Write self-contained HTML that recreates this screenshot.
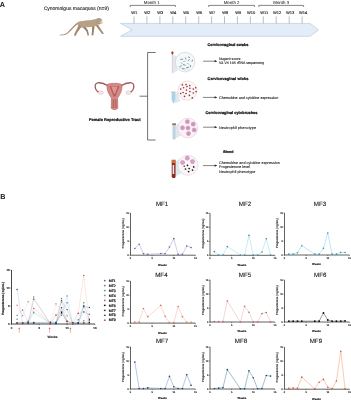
<!DOCTYPE html><html><head><meta charset="utf-8"><style>
html,body{margin:0;padding:0;background:#fff;width:351px;height:400px;overflow:hidden}
svg{display:block;will-change:transform;font-family:"Liberation Sans", sans-serif;text-rendering:geometricPrecision}
</style></head><body>
<svg width="351" height="400" viewBox="0 0 351 400">
<rect width="351" height="400" fill="#fff"/>
<text x="-0.3" y="6.6" font-size="7.2" font-weight="bold" fill="#111">A</text>
<text x="43.7" y="9.5" font-size="5" textLength="65.2" fill="#222" stroke="#222" stroke-width="0.1">Cynomolgus macaques (n=9)</text>
<g>
<path d="M78.2,22.3 C74.5,23.9 71.5,28.6 67.6,32.3 C65.4,34.1 62.6,34.7 59.8,34.8 L59.9,35.6 C63,35.7 66,35 68.4,33.1 C72.2,29.8 75.2,25.4 78.6,23.4 Z" fill="#a89176"/>
<path d="M81.5,26.5 C83.5,28.3 85.5,29.8 86.4,31.3 C86.8,32.6 87.3,34 87.5,35.4 L88.9,35.4 C88.8,33.6 88.4,31.8 87.9,30.3 C86.7,28.2 85,26.8 83.8,25.6 Z" fill="#95806a"/>
<path d="M92.1,26 C92.3,29 92,32.2 91.6,35.3 L93.2,35.4 C93.7,32.3 94.3,29.2 94.5,26 Z" fill="#95806a"/>
<path d="M77.4,22.8 C79,20.9 85,20.6 89.5,20.3 C92.5,20.1 94.5,19.3 96.6,18.8 L98.2,22.4 C97.6,24.6 96,25.8 94,26.5 C90,27.4 85.5,27.1 81.8,27.4 C79.5,27.5 77.2,25.3 77.4,22.8 Z" fill="#b7a085"/>
<path d="M78.6,25 C77.6,27.5 76,30.5 74.6,33.3 C74.2,34.3 74.1,35 74.3,35.8 L76,35.8 C76,35 76.3,34.2 76.8,33.4 C78.5,30.8 80.3,28.6 81.6,26.5 Z" fill="#a48d73"/>
<path d="M95.2,24.8 C97.2,27.8 99.6,31 102.1,33.9 L103.8,34.1 L103.6,33.2 C101.6,30.3 99.6,27.2 97.8,24.2 Z" fill="#a48d73"/>
<ellipse cx="98.9" cy="21.2" rx="3.1" ry="3.3" fill="#b39c82"/>
<ellipse cx="101.3" cy="22.3" rx="1.3" ry="1.5" fill="#e5c4b2"/>
</g>
<g stroke="#666" stroke-width="0.8" fill="none">
<path d="M130.2,7.0V5.4H175.4V7.0"/>
<path d="M208.7,7.0V5.4H254.6V7.0"/>
<path d="M258.8,7.0V5.4H303.6V7.0"/>
</g>
<text x="151.7" y="3.75" font-size="4.4" text-anchor="middle" fill="#333" stroke="#333" stroke-width="0.06">Month 1</text>
<text x="231.6" y="3.75" font-size="4.4" text-anchor="middle" fill="#333" stroke="#333" stroke-width="0.06">Month 2</text>
<text x="281.2" y="3.75" font-size="4.4" text-anchor="middle" fill="#333" stroke="#333" stroke-width="0.06">Month 3</text>
<text x="134.2" y="14.1" font-size="4.0" text-anchor="middle" fill="#1a1a1a" stroke="#1a1a1a" stroke-width="0.13">W1</text>
<text x="147.2" y="14.1" font-size="4.0" text-anchor="middle" fill="#1a1a1a" stroke="#1a1a1a" stroke-width="0.13">W2</text>
<text x="160.2" y="14.1" font-size="4.0" text-anchor="middle" fill="#1a1a1a" stroke="#1a1a1a" stroke-width="0.13">W3</text>
<text x="173.2" y="14.1" font-size="4.0" text-anchor="middle" fill="#1a1a1a" stroke="#1a1a1a" stroke-width="0.13">W4</text>
<text x="186.2" y="14.1" font-size="4.0" text-anchor="middle" fill="#1a1a1a" stroke="#1a1a1a" stroke-width="0.13">W5</text>
<text x="199.2" y="14.1" font-size="4.0" text-anchor="middle" fill="#1a1a1a" stroke="#1a1a1a" stroke-width="0.13">W6</text>
<text x="212.2" y="14.1" font-size="4.0" text-anchor="middle" fill="#1a1a1a" stroke="#1a1a1a" stroke-width="0.13">W7</text>
<text x="225.2" y="14.1" font-size="4.0" text-anchor="middle" fill="#1a1a1a" stroke="#1a1a1a" stroke-width="0.13">W8</text>
<text x="238.2" y="14.1" font-size="4.0" text-anchor="middle" fill="#1a1a1a" stroke="#1a1a1a" stroke-width="0.13">W9</text>
<text x="251.2" y="14.1" font-size="4.0" text-anchor="middle" fill="#1a1a1a" stroke="#1a1a1a" stroke-width="0.13">W10</text>
<text x="264.2" y="14.1" font-size="4.0" text-anchor="middle" fill="#1a1a1a" stroke="#1a1a1a" stroke-width="0.13">W11</text>
<text x="277.2" y="14.1" font-size="4.0" text-anchor="middle" fill="#1a1a1a" stroke="#1a1a1a" stroke-width="0.13">W12</text>
<text x="290.2" y="14.1" font-size="4.0" text-anchor="middle" fill="#1a1a1a" stroke="#1a1a1a" stroke-width="0.13">W13</text>
<text x="303.2" y="14.1" font-size="4.0" text-anchor="middle" fill="#1a1a1a" stroke="#1a1a1a" stroke-width="0.13">W14</text>
<path d="M120.6,23.4 H310.2 L318.6,29.9 L310.2,36.3 H120.6 L132.2,29.9 Z" fill="#e2edf8" stroke="#b4c3d3" stroke-width="0.6"/>
<g stroke="#7d8896" stroke-width="0.55">
<path d="M134.0,16.3V23.4"/>
<path d="M146.9,16.3V23.4"/>
<path d="M159.9,16.3V23.4"/>
<path d="M172.8,16.3V23.4"/>
<path d="M185.7,16.3V23.4"/>
<path d="M198.7,16.3V23.4"/>
<path d="M211.6,16.3V23.4"/>
<path d="M224.5,16.3V23.4"/>
<path d="M237.4,16.3V23.4"/>
<path d="M250.4,16.3V23.4"/>
<path d="M263.3,16.3V23.4"/>
<path d="M276.2,16.3V23.4"/>
<path d="M289.2,16.3V23.4"/>
<path d="M302.1,16.3V23.4"/>
</g>
<path d="M155.6,52.5H147.6V140H155.6 M139.6,96.2H147.6" fill="none" stroke="#444" stroke-width="0.75"/>
<g>
<path d="M107.8,85.8 C104.5,83.6 100.5,82.4 97.6,82.9 C95,83.4 94.6,86.5 95.8,89.2 C96.6,90.8 97.8,91.8 99,92.4" fill="none" stroke="#a3595a" stroke-width="1.3"/>
<path d="M121.2,85.8 C124.5,83.6 128.5,82.4 131.4,82.9 C134,83.4 134.4,86.5 133.2,89.2 C132.4,90.8 131.2,91.8 130,92.4" fill="none" stroke="#a3595a" stroke-width="1.3"/>
<ellipse cx="100.8" cy="92.6" rx="2.5" ry="1.9" fill="#f3e6e8" stroke="#d8aaaa" stroke-width="0.4"/>
<ellipse cx="128.4" cy="92.6" rx="2.5" ry="1.9" fill="#f3e6e8" stroke="#d8aaaa" stroke-width="0.4"/>
<path d="M107,84.8 C109.5,82.8 119.5,82.8 122,84.8 C122.4,90 120,95 117.6,98 L117.8,108.3 C116.2,110 112.8,110 111.2,108.3 L111.5,98 C109,95 106.6,90 107,84.8 Z" fill="#d48a85" stroke="#b0605c" stroke-width="0.6"/>
<path d="M109.6,86 L119.4,86 L115.3,96.5 L113.7,96.5 Z" fill="#b9585a"/>
<path d="M111.2,86.4 L117.8,86.4 L114.9,94 L114.1,94 Z" fill="#d99893"/>
<path d="M112.6,99.2 L116.4,99.2 L116.5,108 L112.5,108 Z" fill="#bd6764"/><path d="M114.5,99.5 V107.8" stroke="#d99590" stroke-width="0.5"/>
</g>
<text x="89" y="121.2" font-size="4.0" font-weight="bold" fill="#111" stroke="#111" stroke-width="0.22" textLength="51.6">Female Reproductive Tract</text>
<text x="207.5" y="45.9" font-size="3.9" font-weight="bold" fill="#111" stroke="#111" stroke-width="0.22" textLength="41">Cervicovaginal swabs</text>
<text x="207.5" y="80.1" font-size="3.9" font-weight="bold" fill="#111" stroke="#111" stroke-width="0.22" textLength="40.8">Cervicovaginal wicks</text>
<text x="205.5" y="113.6" font-size="3.9" font-weight="bold" fill="#111" stroke="#111" stroke-width="0.22">Cervicovaginal cytobrushes</text>
<text x="223.2" y="153.1" font-size="3.6" font-weight="bold" fill="#111" stroke="#111" stroke-width="0.22">Blood</text>
<path d="M203,61.2H215.5" stroke="#333" stroke-width="0.6"/><path d="M217.4,61.2 L214.6,60.050000000000004 L214.6,62.35 Z" fill="#222"/>
<path d="M203,97.4H215.5" stroke="#333" stroke-width="0.6"/><path d="M217.4,97.4 L214.6,96.25 L214.6,98.55000000000001 Z" fill="#222"/>
<path d="M203,127.2H215.5" stroke="#333" stroke-width="0.6"/><path d="M217.4,127.2 L214.6,126.05 L214.6,128.35 Z" fill="#222"/>
<path d="M203,165.6H215.5" stroke="#333" stroke-width="0.6"/><path d="M217.4,165.6 L214.6,164.45 L214.6,166.75 Z" fill="#222"/>
<g font-size="3.7" fill="#222" stroke="#222" stroke-width="0.1">
<text x="219" y="59.8" font-size="3.6">Nugent score</text>
<text x="219" y="64.2" font-size="3.5">V3-V4 16S rRNA sequencing</text>
<text x="219" y="98.8" textLength="59.2">Chemokine and cytokine expression</text>
<text x="219" y="128.6" textLength="37">Neutrophil phenotype</text>
<text x="219" y="164.2" textLength="60.8">Chemokine and cytokine expression</text>
<text x="219" y="168.4" textLength="31">Progesterone level</text>
<text x="219" y="172.5" textLength="36.2">Neutrophil phenotype</text>
</g>
<g>
<path d="M173.2,55 L177,56.5 C175.5,60 175.5,66 178,70.5 L173.2,73 Z" fill="#dfe9ef"/>
<path d="M172.5,54 V73.3" stroke="#ddd3d8" stroke-width="1.4"/>
<ellipse cx="172.4" cy="52.8" rx="1.05" ry="1.6" fill="#9e2a3c"/>
<circle cx="185.1" cy="62.1" r="9.8" fill="#f5f9fb" stroke="#c8d6de" stroke-width="0.7"/>
<path d="M177,66 C180,70 186,72 191,70 C189,68 183,67 177,66 Z" fill="#e6eef3"/>
<g stroke="#4a5e6a" stroke-width="0.65" stroke-linecap="round">
<path d="M180.6,59.4 l2.2,-0.2"/><path d="M188.4,56.8 l1.4,0.9"/><path d="M188.2,60.8 l1.2,-1.4"/><path d="M192,61.4 l0.6,-1.4"/>
<path d="M179.8,66.6 l1.6,-0.8"/><path d="M183.2,64.6 l2.2,0.6"/><path d="M186.6,67.6 l2,-0.3"/><path d="M190.6,65.4 l-0.3,1.4"/><path d="M182.6,68.6 l1.6,0.3"/><path d="M185.4,57.8 l0.5,1.2"/>
</g>
<g stroke="#4fa3b5" stroke-width="0.55" stroke-linecap="round"><path d="M183.5,61.5 l1.8,-0.4"/><path d="M187.5,63.5 l1.5,0.8"/><path d="M181,63 l1.4,0.6"/></g>
</g>
<g>
<path d="M175.3,93.5 L179,91 C178.2,94 178.5,98 180.5,101 L174.2,103.5 Z" fill="#dde8ef"/>
<path d="M171.6,93.2 H175.3 V99.8 L173.45,103.8 L171.6,99.8 Z" fill="#a9d3e6"/>
<rect x="171.3" y="91.6" width="4.3" height="1.7" fill="#b5c4cc"/>
<circle cx="187.4" cy="90.6" r="9.6" fill="#fcf6f6" stroke="#e0cfd3" stroke-width="0.6"/>
<g fill="#93303f">
<circle cx="186" cy="84.6" r="0.82"/>
<circle cx="189.8" cy="85.6" r="0.82"/>
<circle cx="183.6" cy="87.7" r="0.82"/>
<circle cx="187" cy="86.6" r="0.82"/>
<circle cx="189.9" cy="88.2" r="0.82"/>
<circle cx="193.3" cy="89.1" r="0.82"/>
<circle cx="180.7" cy="89.1" r="0.82"/>
<circle cx="186.5" cy="90.1" r="0.82"/>
<circle cx="183.1" cy="92.5" r="0.82"/>
<circle cx="189.9" cy="91.6" r="0.82"/>
<circle cx="193.3" cy="93" r="0.82"/>
<circle cx="186" cy="93.5" r="0.82"/>
<circle cx="180.7" cy="93.5" r="0.82"/>
<circle cx="189.4" cy="95.4" r="0.82"/>
<circle cx="184.5" cy="96.4" r="0.82"/>
<circle cx="192.3" cy="97.9" r="0.82"/>
<circle cx="195.7" cy="87.7" r="0.82"/>
<circle cx="196" cy="91.6" r="0.82"/>
<circle cx="182.4" cy="84.9" r="0.82"/>
</g></g>
<g>
<path d="M175.6,125.5 L179.5,122.5 C178.3,127 178.5,132 181,135.5 L175.6,138.5 Z" fill="#dde8ef"/>
<path d="M172.5,124.5 H175.7 V138.2 C175.7,140 172.5,140 172.5,138.2 Z" fill="#bcd3e2"/>
<rect x="172.3" y="123.3" width="3.6" height="1.8" fill="#a86a3e"/>
<circle cx="187.9" cy="128" r="9.9" fill="#fbf2f7" stroke="#e6cbdc" stroke-width="0.6"/>
<g fill="#d7a3c7" stroke="#b57aa3" stroke-width="0.4">
<circle cx="187.4" cy="121.7" r="2.1"/><circle cx="193.2" cy="124.2" r="2.1"/><circle cx="194.2" cy="130" r="2.1"/>
<circle cx="188" cy="128" r="2.1"/><circle cx="188.5" cy="133.6" r="2.1"/><circle cx="182.5" cy="127.8" r="2.1"/>
</g>
<g fill="#c08ab0"><circle cx="187.4" cy="121.7" r="0.9"/><circle cx="193.2" cy="124.2" r="0.9"/><circle cx="194.2" cy="130" r="0.9"/><circle cx="188" cy="128" r="0.9"/><circle cx="188.5" cy="133.6" r="0.9"/><circle cx="182.5" cy="127.8" r="0.9"/></g>
</g>
<g>
<path d="M175.6,162 L180,158.5 C178.8,163 179.5,169 182,172.5 L175.6,176.5 Z" fill="#d9eaf0"/>
<path d="M171.7,162.8 H175.6 V176.4 C175.6,178.6 171.7,178.6 171.7,176.4 Z" fill="#8c2a2a"/>
<rect x="172.6" y="165" width="1.6" height="9" fill="#efe3e3"/>
<rect x="171.5" y="159.7" width="4.3" height="3.5" fill="#d0703a"/>
<circle cx="188" cy="165.3" r="10" fill="#fcf5f8" stroke="#e3cdd9" stroke-width="0.6"/>
<g fill="#d7a3c7" stroke="#b57aa3" stroke-width="0.4"><circle cx="187.3" cy="158.2" r="2.1"/><circle cx="182.6" cy="162.5" r="2.1"/><circle cx="192.5" cy="161.6" r="2.1"/></g>
<g fill="#1a1a1a"><circle cx="187.5" cy="165.3" r="0.85"/><circle cx="193.7" cy="166.9" r="0.85"/><circle cx="185.5" cy="169" r="0.85"/><circle cx="189.2" cy="168.5" r="0.85"/><circle cx="192.5" cy="170.1" r="0.85"/><circle cx="188.6" cy="171.6" r="0.85"/><circle cx="184.2" cy="166.2" r="0.7"/></g>
</g>
<text x="0.2" y="198.9" font-size="7.2" font-weight="bold" fill="#111">B</text>
<text x="162.1" y="205.5" font-size="6.2" text-anchor="middle" fill="#111" stroke="#111" stroke-width="0.1">MF1</text>
<path d="M130.5,213.1V255.2H195.4" fill="none" stroke="#444" stroke-width="0.85"/>
<path d="M129.5,255.2H130.5" stroke="#333" stroke-width="0.5"/>
<text x="129.0" y="256.1" font-size="2.5" font-weight="bold" text-anchor="end" fill="#333" stroke="#333" stroke-width="0.12">0</text>
<path d="M129.5,241.2H130.5" stroke="#333" stroke-width="0.5"/>
<text x="129.0" y="242.0" font-size="2.5" font-weight="bold" text-anchor="end" fill="#333" stroke="#333" stroke-width="0.12">5</text>
<path d="M129.5,227.1H130.5" stroke="#333" stroke-width="0.5"/>
<text x="129.0" y="228.0" font-size="2.5" font-weight="bold" text-anchor="end" fill="#333" stroke="#333" stroke-width="0.12">10</text>
<path d="M129.5,213.1H130.5" stroke="#333" stroke-width="0.5"/>
<text x="129.0" y="213.9" font-size="2.5" font-weight="bold" text-anchor="end" fill="#333" stroke="#333" stroke-width="0.12">15</text>
<path d="M130.5,255.2V256.2" stroke="#333" stroke-width="0.5"/>
<text x="130.5" y="259.1" font-size="2.5" font-weight="bold" text-anchor="middle" fill="#333" stroke="#333" stroke-width="0.12">0</text>
<path d="M152.1,255.2V256.2" stroke="#333" stroke-width="0.5"/>
<text x="152.1" y="259.1" font-size="2.5" font-weight="bold" text-anchor="middle" fill="#333" stroke="#333" stroke-width="0.12">5</text>
<path d="M173.8,255.2V256.2" stroke="#333" stroke-width="0.5"/>
<text x="173.8" y="259.1" font-size="2.5" font-weight="bold" text-anchor="middle" fill="#333" stroke="#333" stroke-width="0.12">10</text>
<path d="M195.4,255.2V256.2" stroke="#333" stroke-width="0.5"/>
<text x="195.4" y="259.1" font-size="2.5" font-weight="bold" text-anchor="middle" fill="#333" stroke="#333" stroke-width="0.12">15</text>
<text x="162.5" y="265.6" font-size="2.8" font-weight="bold" text-anchor="middle" fill="#222" stroke="#222" stroke-width="0.12">Weeks</text>
<text transform="translate(124.0,233.4) rotate(-90)" font-size="2.9" font-weight="bold" text-anchor="middle" fill="#333" stroke="#333" stroke-width="0.12">Progesterone (ng/mL)</text>
<path d="M134.83,248.46 L139.15,244.25 L143.48,253.80 L147.81,254.36 L160.79,253.52 L165.11,253.80 L169.44,247.06 L173.77,238.64 L178.09,254.36 L182.42,254.36 L186.75,245.94 L191.07,247.62" fill="none" stroke="#9d9fd6" stroke-width="0.5"/>
<circle cx="134.83" cy="248.46" r="0.8" fill="#5d5f98"/>
<circle cx="139.15" cy="244.25" r="0.8" fill="#5d5f98"/>
<circle cx="143.48" cy="253.80" r="0.8" fill="#5d5f98"/>
<circle cx="147.81" cy="254.36" r="0.8" fill="#5d5f98"/>
<circle cx="160.79" cy="253.52" r="0.8" fill="#5d5f98"/>
<circle cx="165.11" cy="253.80" r="0.8" fill="#5d5f98"/>
<circle cx="169.44" cy="247.06" r="0.8" fill="#5d5f98"/>
<circle cx="173.77" cy="238.64" r="0.8" fill="#5d5f98"/>
<circle cx="178.09" cy="254.36" r="0.8" fill="#5d5f98"/>
<circle cx="182.42" cy="254.36" r="0.8" fill="#5d5f98"/>
<circle cx="186.75" cy="245.94" r="0.8" fill="#5d5f98"/>
<circle cx="191.07" cy="247.62" r="0.8" fill="#5d5f98"/>
<text x="245.0" y="205.5" font-size="6.2" text-anchor="middle" fill="#111" stroke="#111" stroke-width="0.1">MF2</text>
<path d="M210.0,213.2V255.3H274.9" fill="none" stroke="#444" stroke-width="0.85"/>
<path d="M209.0,255.3H210.0" stroke="#333" stroke-width="0.5"/>
<text x="208.5" y="256.2" font-size="2.5" font-weight="bold" text-anchor="end" fill="#333" stroke="#333" stroke-width="0.12">0</text>
<path d="M209.0,241.3H210.0" stroke="#333" stroke-width="0.5"/>
<text x="208.5" y="242.1" font-size="2.5" font-weight="bold" text-anchor="end" fill="#333" stroke="#333" stroke-width="0.12">5</text>
<path d="M209.0,227.2H210.0" stroke="#333" stroke-width="0.5"/>
<text x="208.5" y="228.1" font-size="2.5" font-weight="bold" text-anchor="end" fill="#333" stroke="#333" stroke-width="0.12">10</text>
<path d="M209.0,213.2H210.0" stroke="#333" stroke-width="0.5"/>
<text x="208.5" y="214.1" font-size="2.5" font-weight="bold" text-anchor="end" fill="#333" stroke="#333" stroke-width="0.12">15</text>
<path d="M210.0,255.3V256.3" stroke="#333" stroke-width="0.5"/>
<text x="210.0" y="259.2" font-size="2.5" font-weight="bold" text-anchor="middle" fill="#333" stroke="#333" stroke-width="0.12">0</text>
<path d="M231.6,255.3V256.3" stroke="#333" stroke-width="0.5"/>
<text x="231.6" y="259.2" font-size="2.5" font-weight="bold" text-anchor="middle" fill="#333" stroke="#333" stroke-width="0.12">5</text>
<path d="M253.3,255.3V256.3" stroke="#333" stroke-width="0.5"/>
<text x="253.3" y="259.2" font-size="2.5" font-weight="bold" text-anchor="middle" fill="#333" stroke="#333" stroke-width="0.12">10</text>
<path d="M274.9,255.3V256.3" stroke="#333" stroke-width="0.5"/>
<text x="274.9" y="259.2" font-size="2.5" font-weight="bold" text-anchor="middle" fill="#333" stroke="#333" stroke-width="0.12">15</text>
<text x="242.0" y="265.7" font-size="2.8" font-weight="bold" text-anchor="middle" fill="#222" stroke="#222" stroke-width="0.12">Weeks</text>
<text transform="translate(203.5,233.6) rotate(-90)" font-size="2.9" font-weight="bold" text-anchor="middle" fill="#333" stroke="#333" stroke-width="0.12">Progesterone (ng/mL)</text>
<path d="M214.33,251.65 L218.65,255.02 L222.98,255.02 L227.31,246.60 L240.29,255.02 L244.61,255.02 L248.94,235.37 L253.27,255.02 L257.59,255.02 L261.92,251.93 L266.25,238.74 L270.57,255.02" fill="none" stroke="#8ed8ea" stroke-width="0.5"/>
<circle cx="214.33" cy="251.65" r="0.8" fill="#3f8499"/>
<circle cx="218.65" cy="255.02" r="0.8" fill="#3f8499"/>
<circle cx="222.98" cy="255.02" r="0.8" fill="#3f8499"/>
<circle cx="227.31" cy="246.60" r="0.8" fill="#3f8499"/>
<circle cx="240.29" cy="255.02" r="0.8" fill="#3f8499"/>
<circle cx="244.61" cy="255.02" r="0.8" fill="#3f8499"/>
<circle cx="248.94" cy="235.37" r="0.8" fill="#3f8499"/>
<circle cx="253.27" cy="255.02" r="0.8" fill="#3f8499"/>
<circle cx="257.59" cy="255.02" r="0.8" fill="#3f8499"/>
<circle cx="261.92" cy="251.93" r="0.8" fill="#3f8499"/>
<circle cx="266.25" cy="238.74" r="0.8" fill="#3f8499"/>
<circle cx="270.57" cy="255.02" r="0.8" fill="#3f8499"/>
<text x="320.0" y="205.5" font-size="6.2" text-anchor="middle" fill="#111" stroke="#111" stroke-width="0.1">MF3</text>
<path d="M284.5,212.9V255.0H349.4" fill="none" stroke="#444" stroke-width="0.85"/>
<path d="M283.5,255.0H284.5" stroke="#333" stroke-width="0.5"/>
<text x="283.0" y="255.8" font-size="2.5" font-weight="bold" text-anchor="end" fill="#333" stroke="#333" stroke-width="0.12">0</text>
<path d="M283.5,241.0H284.5" stroke="#333" stroke-width="0.5"/>
<text x="283.0" y="241.8" font-size="2.5" font-weight="bold" text-anchor="end" fill="#333" stroke="#333" stroke-width="0.12">5</text>
<path d="M283.5,226.9H284.5" stroke="#333" stroke-width="0.5"/>
<text x="283.0" y="227.8" font-size="2.5" font-weight="bold" text-anchor="end" fill="#333" stroke="#333" stroke-width="0.12">10</text>
<path d="M283.5,212.9H284.5" stroke="#333" stroke-width="0.5"/>
<text x="283.0" y="213.8" font-size="2.5" font-weight="bold" text-anchor="end" fill="#333" stroke="#333" stroke-width="0.12">15</text>
<path d="M284.5,255.0V256.0" stroke="#333" stroke-width="0.5"/>
<text x="284.5" y="258.9" font-size="2.5" font-weight="bold" text-anchor="middle" fill="#333" stroke="#333" stroke-width="0.12">0</text>
<path d="M306.1,255.0V256.0" stroke="#333" stroke-width="0.5"/>
<text x="306.1" y="258.9" font-size="2.5" font-weight="bold" text-anchor="middle" fill="#333" stroke="#333" stroke-width="0.12">5</text>
<path d="M327.8,255.0V256.0" stroke="#333" stroke-width="0.5"/>
<text x="327.8" y="258.9" font-size="2.5" font-weight="bold" text-anchor="middle" fill="#333" stroke="#333" stroke-width="0.12">10</text>
<path d="M349.4,255.0V256.0" stroke="#333" stroke-width="0.5"/>
<text x="349.4" y="258.9" font-size="2.5" font-weight="bold" text-anchor="middle" fill="#333" stroke="#333" stroke-width="0.12">15</text>
<text x="316.5" y="265.4" font-size="2.8" font-weight="bold" text-anchor="middle" fill="#222" stroke="#222" stroke-width="0.12">Weeks</text>
<text transform="translate(278.0,233.2) rotate(-90)" font-size="2.9" font-weight="bold" text-anchor="middle" fill="#333" stroke="#333" stroke-width="0.12">Progesterone (ng/mL)</text>
<path d="M288.83,254.16 L293.15,254.16 L297.48,252.75 L301.81,245.74 L314.79,254.16 L319.11,254.16 L323.44,248.26 L327.77,233.11 L332.09,254.16 L336.42,254.16 L340.75,252.47 L345.07,252.47" fill="none" stroke="#78d0e2" stroke-width="0.5"/>
<circle cx="288.83" cy="254.16" r="0.8" fill="#3b8c9b"/>
<circle cx="293.15" cy="254.16" r="0.8" fill="#3b8c9b"/>
<circle cx="297.48" cy="252.75" r="0.8" fill="#3b8c9b"/>
<circle cx="301.81" cy="245.74" r="0.8" fill="#3b8c9b"/>
<circle cx="314.79" cy="254.16" r="0.8" fill="#3b8c9b"/>
<circle cx="319.11" cy="254.16" r="0.8" fill="#3b8c9b"/>
<circle cx="323.44" cy="248.26" r="0.8" fill="#3b8c9b"/>
<circle cx="327.77" cy="233.11" r="0.8" fill="#3b8c9b"/>
<circle cx="332.09" cy="254.16" r="0.8" fill="#3b8c9b"/>
<circle cx="336.42" cy="254.16" r="0.8" fill="#3b8c9b"/>
<circle cx="340.75" cy="252.47" r="0.8" fill="#3b8c9b"/>
<circle cx="345.07" cy="252.47" r="0.8" fill="#3b8c9b"/>
<text x="161.4" y="276.6" font-size="6.2" text-anchor="middle" fill="#111" stroke="#111" stroke-width="0.1">MF4</text>
<path d="M130.5,281.0V323.1H195.4" fill="none" stroke="#444" stroke-width="0.85"/>
<path d="M129.5,323.1H130.5" stroke="#333" stroke-width="0.5"/>
<text x="129.0" y="324.0" font-size="2.5" font-weight="bold" text-anchor="end" fill="#333" stroke="#333" stroke-width="0.12">0</text>
<path d="M129.5,309.1H130.5" stroke="#333" stroke-width="0.5"/>
<text x="129.0" y="309.9" font-size="2.5" font-weight="bold" text-anchor="end" fill="#333" stroke="#333" stroke-width="0.12">5</text>
<path d="M129.5,295.0H130.5" stroke="#333" stroke-width="0.5"/>
<text x="129.0" y="295.9" font-size="2.5" font-weight="bold" text-anchor="end" fill="#333" stroke="#333" stroke-width="0.12">10</text>
<path d="M129.5,281.0H130.5" stroke="#333" stroke-width="0.5"/>
<text x="129.0" y="281.9" font-size="2.5" font-weight="bold" text-anchor="end" fill="#333" stroke="#333" stroke-width="0.12">15</text>
<path d="M130.5,323.1V324.1" stroke="#333" stroke-width="0.5"/>
<text x="130.5" y="327.0" font-size="2.5" font-weight="bold" text-anchor="middle" fill="#333" stroke="#333" stroke-width="0.12">0</text>
<path d="M152.1,323.1V324.1" stroke="#333" stroke-width="0.5"/>
<text x="152.1" y="327.0" font-size="2.5" font-weight="bold" text-anchor="middle" fill="#333" stroke="#333" stroke-width="0.12">5</text>
<path d="M173.8,323.1V324.1" stroke="#333" stroke-width="0.5"/>
<text x="173.8" y="327.0" font-size="2.5" font-weight="bold" text-anchor="middle" fill="#333" stroke="#333" stroke-width="0.12">10</text>
<path d="M195.4,323.1V324.1" stroke="#333" stroke-width="0.5"/>
<text x="195.4" y="327.0" font-size="2.5" font-weight="bold" text-anchor="middle" fill="#333" stroke="#333" stroke-width="0.12">15</text>
<text x="162.5" y="333.5" font-size="2.8" font-weight="bold" text-anchor="middle" fill="#222" stroke="#222" stroke-width="0.12">Weeks</text>
<text transform="translate(124.0,301.4) rotate(-90)" font-size="2.9" font-weight="bold" text-anchor="middle" fill="#333" stroke="#333" stroke-width="0.12">Progesterone (ng/mL)</text>
<path d="M134.83,321.98 L139.15,321.98 L143.48,308.51 L147.81,316.64 L160.79,305.42 L165.11,316.36 L169.44,322.54 L173.77,322.54 L178.09,306.54 L182.42,316.64 L186.75,322.26 L191.07,322.26" fill="none" stroke="#f6b29a" stroke-width="0.5"/>
<circle cx="134.83" cy="321.98" r="0.8" fill="#b97a66"/>
<circle cx="139.15" cy="321.98" r="0.8" fill="#b97a66"/>
<circle cx="143.48" cy="308.51" r="0.8" fill="#b97a66"/>
<circle cx="147.81" cy="316.64" r="0.8" fill="#b97a66"/>
<circle cx="160.79" cy="305.42" r="0.8" fill="#b97a66"/>
<circle cx="165.11" cy="316.36" r="0.8" fill="#b97a66"/>
<circle cx="169.44" cy="322.54" r="0.8" fill="#b97a66"/>
<circle cx="173.77" cy="322.54" r="0.8" fill="#b97a66"/>
<circle cx="178.09" cy="306.54" r="0.8" fill="#b97a66"/>
<circle cx="182.42" cy="316.64" r="0.8" fill="#b97a66"/>
<circle cx="186.75" cy="322.26" r="0.8" fill="#b97a66"/>
<circle cx="191.07" cy="322.26" r="0.8" fill="#b97a66"/>
<text x="245.0" y="276.6" font-size="6.2" text-anchor="middle" fill="#111" stroke="#111" stroke-width="0.1">MF5</text>
<path d="M210.0,279.9V322.0H274.9" fill="none" stroke="#444" stroke-width="0.85"/>
<path d="M209.0,322.0H210.0" stroke="#333" stroke-width="0.5"/>
<text x="208.5" y="322.9" font-size="2.5" font-weight="bold" text-anchor="end" fill="#333" stroke="#333" stroke-width="0.12">0</text>
<path d="M209.0,308.0H210.0" stroke="#333" stroke-width="0.5"/>
<text x="208.5" y="308.8" font-size="2.5" font-weight="bold" text-anchor="end" fill="#333" stroke="#333" stroke-width="0.12">5</text>
<path d="M209.0,293.9H210.0" stroke="#333" stroke-width="0.5"/>
<text x="208.5" y="294.8" font-size="2.5" font-weight="bold" text-anchor="end" fill="#333" stroke="#333" stroke-width="0.12">10</text>
<path d="M209.0,279.9H210.0" stroke="#333" stroke-width="0.5"/>
<text x="208.5" y="280.8" font-size="2.5" font-weight="bold" text-anchor="end" fill="#333" stroke="#333" stroke-width="0.12">15</text>
<path d="M210.0,322.0V323.0" stroke="#333" stroke-width="0.5"/>
<text x="210.0" y="325.9" font-size="2.5" font-weight="bold" text-anchor="middle" fill="#333" stroke="#333" stroke-width="0.12">0</text>
<path d="M231.6,322.0V323.0" stroke="#333" stroke-width="0.5"/>
<text x="231.6" y="325.9" font-size="2.5" font-weight="bold" text-anchor="middle" fill="#333" stroke="#333" stroke-width="0.12">5</text>
<path d="M253.3,322.0V323.0" stroke="#333" stroke-width="0.5"/>
<text x="253.3" y="325.9" font-size="2.5" font-weight="bold" text-anchor="middle" fill="#333" stroke="#333" stroke-width="0.12">10</text>
<path d="M274.9,322.0V323.0" stroke="#333" stroke-width="0.5"/>
<text x="274.9" y="325.9" font-size="2.5" font-weight="bold" text-anchor="middle" fill="#333" stroke="#333" stroke-width="0.12">15</text>
<text x="242.0" y="332.4" font-size="2.8" font-weight="bold" text-anchor="middle" fill="#222" stroke="#222" stroke-width="0.12">Weeks</text>
<text transform="translate(203.5,300.2) rotate(-90)" font-size="2.9" font-weight="bold" text-anchor="middle" fill="#333" stroke="#333" stroke-width="0.12">Progesterone (ng/mL)</text>
<path d="M214.33,321.44 L218.65,321.44 L222.98,321.44 L227.31,300.95 L240.29,322.00 L244.61,306.28 L248.94,312.18 L253.27,322.00 L257.59,322.00 L261.92,313.58 L266.25,312.46 L270.57,322.00" fill="none" stroke="#f2aaa8" stroke-width="0.5"/>
<circle cx="214.33" cy="321.44" r="0.8" fill="#a8646e"/>
<circle cx="218.65" cy="321.44" r="0.8" fill="#a8646e"/>
<circle cx="222.98" cy="321.44" r="0.8" fill="#a8646e"/>
<circle cx="227.31" cy="300.95" r="0.8" fill="#a8646e"/>
<circle cx="240.29" cy="322.00" r="0.8" fill="#a8646e"/>
<circle cx="244.61" cy="306.28" r="0.8" fill="#a8646e"/>
<circle cx="248.94" cy="312.18" r="0.8" fill="#a8646e"/>
<circle cx="253.27" cy="322.00" r="0.8" fill="#a8646e"/>
<circle cx="257.59" cy="322.00" r="0.8" fill="#a8646e"/>
<circle cx="261.92" cy="313.58" r="0.8" fill="#a8646e"/>
<circle cx="266.25" cy="312.46" r="0.8" fill="#a8646e"/>
<circle cx="270.57" cy="322.00" r="0.8" fill="#a8646e"/>
<text x="320.3" y="276.6" font-size="6.2" text-anchor="middle" fill="#111" stroke="#111" stroke-width="0.1">MF6</text>
<path d="M284.5,279.9V322.0H349.4" fill="none" stroke="#444" stroke-width="0.85"/>
<path d="M283.5,322.0H284.5" stroke="#333" stroke-width="0.5"/>
<text x="283.0" y="322.9" font-size="2.5" font-weight="bold" text-anchor="end" fill="#333" stroke="#333" stroke-width="0.12">0</text>
<path d="M283.5,308.0H284.5" stroke="#333" stroke-width="0.5"/>
<text x="283.0" y="308.8" font-size="2.5" font-weight="bold" text-anchor="end" fill="#333" stroke="#333" stroke-width="0.12">5</text>
<path d="M283.5,293.9H284.5" stroke="#333" stroke-width="0.5"/>
<text x="283.0" y="294.8" font-size="2.5" font-weight="bold" text-anchor="end" fill="#333" stroke="#333" stroke-width="0.12">10</text>
<path d="M283.5,279.9H284.5" stroke="#333" stroke-width="0.5"/>
<text x="283.0" y="280.8" font-size="2.5" font-weight="bold" text-anchor="end" fill="#333" stroke="#333" stroke-width="0.12">15</text>
<path d="M284.5,322.0V323.0" stroke="#333" stroke-width="0.5"/>
<text x="284.5" y="325.9" font-size="2.5" font-weight="bold" text-anchor="middle" fill="#333" stroke="#333" stroke-width="0.12">0</text>
<path d="M306.1,322.0V323.0" stroke="#333" stroke-width="0.5"/>
<text x="306.1" y="325.9" font-size="2.5" font-weight="bold" text-anchor="middle" fill="#333" stroke="#333" stroke-width="0.12">5</text>
<path d="M327.8,322.0V323.0" stroke="#333" stroke-width="0.5"/>
<text x="327.8" y="325.9" font-size="2.5" font-weight="bold" text-anchor="middle" fill="#333" stroke="#333" stroke-width="0.12">10</text>
<path d="M349.4,322.0V323.0" stroke="#333" stroke-width="0.5"/>
<text x="349.4" y="325.9" font-size="2.5" font-weight="bold" text-anchor="middle" fill="#333" stroke="#333" stroke-width="0.12">15</text>
<text x="316.5" y="332.4" font-size="2.8" font-weight="bold" text-anchor="middle" fill="#222" stroke="#222" stroke-width="0.12">Weeks</text>
<text transform="translate(278.0,300.2) rotate(-90)" font-size="2.9" font-weight="bold" text-anchor="middle" fill="#333" stroke="#333" stroke-width="0.12">Progesterone (ng/mL)</text>
<path d="M288.83,321.16 L293.15,321.16 L297.48,321.16 L301.81,321.16 L314.79,321.16 L319.11,321.16 L323.44,313.02 L327.77,320.04 L332.09,321.16 L336.42,321.16 L340.75,321.16 L345.07,320.88" fill="none" stroke="#3a3a3a" stroke-width="0.5"/>
<circle cx="288.83" cy="321.16" r="0.95" fill="#101010"/>
<circle cx="293.15" cy="321.16" r="0.95" fill="#101010"/>
<circle cx="297.48" cy="321.16" r="0.95" fill="#101010"/>
<circle cx="301.81" cy="321.16" r="0.95" fill="#101010"/>
<circle cx="314.79" cy="321.16" r="0.95" fill="#101010"/>
<circle cx="319.11" cy="321.16" r="0.95" fill="#101010"/>
<circle cx="323.44" cy="313.02" r="0.95" fill="#101010"/>
<circle cx="327.77" cy="320.04" r="0.95" fill="#101010"/>
<circle cx="332.09" cy="321.16" r="0.95" fill="#101010"/>
<circle cx="336.42" cy="321.16" r="0.95" fill="#101010"/>
<circle cx="340.75" cy="321.16" r="0.95" fill="#101010"/>
<circle cx="345.07" cy="320.88" r="0.95" fill="#101010"/>
<text x="162.1" y="342.6" font-size="6.2" text-anchor="middle" fill="#111" stroke="#111" stroke-width="0.1">MF7</text>
<path d="M130.5,346.9V389.0H195.4" fill="none" stroke="#444" stroke-width="0.85"/>
<path d="M129.5,389.0H130.5" stroke="#333" stroke-width="0.5"/>
<text x="129.0" y="389.9" font-size="2.5" font-weight="bold" text-anchor="end" fill="#333" stroke="#333" stroke-width="0.12">0</text>
<path d="M129.5,375.0H130.5" stroke="#333" stroke-width="0.5"/>
<text x="129.0" y="375.8" font-size="2.5" font-weight="bold" text-anchor="end" fill="#333" stroke="#333" stroke-width="0.12">5</text>
<path d="M129.5,360.9H130.5" stroke="#333" stroke-width="0.5"/>
<text x="129.0" y="361.8" font-size="2.5" font-weight="bold" text-anchor="end" fill="#333" stroke="#333" stroke-width="0.12">10</text>
<path d="M129.5,346.9H130.5" stroke="#333" stroke-width="0.5"/>
<text x="129.0" y="347.8" font-size="2.5" font-weight="bold" text-anchor="end" fill="#333" stroke="#333" stroke-width="0.12">15</text>
<path d="M130.5,389.0V390.0" stroke="#333" stroke-width="0.5"/>
<text x="130.5" y="392.9" font-size="2.5" font-weight="bold" text-anchor="middle" fill="#333" stroke="#333" stroke-width="0.12">0</text>
<path d="M152.1,389.0V390.0" stroke="#333" stroke-width="0.5"/>
<text x="152.1" y="392.9" font-size="2.5" font-weight="bold" text-anchor="middle" fill="#333" stroke="#333" stroke-width="0.12">5</text>
<path d="M173.8,389.0V390.0" stroke="#333" stroke-width="0.5"/>
<text x="173.8" y="392.9" font-size="2.5" font-weight="bold" text-anchor="middle" fill="#333" stroke="#333" stroke-width="0.12">10</text>
<path d="M195.4,389.0V390.0" stroke="#333" stroke-width="0.5"/>
<text x="195.4" y="392.9" font-size="2.5" font-weight="bold" text-anchor="middle" fill="#333" stroke="#333" stroke-width="0.12">15</text>
<text x="162.5" y="399.4" font-size="2.8" font-weight="bold" text-anchor="middle" fill="#222" stroke="#222" stroke-width="0.12">Weeks</text>
<text transform="translate(124.0,367.2) rotate(-90)" font-size="2.9" font-weight="bold" text-anchor="middle" fill="#333" stroke="#333" stroke-width="0.12">Progesterone (ng/mL)</text>
<path d="M134.83,362.06 L139.15,388.44 L143.48,388.44 L147.81,387.88 L160.79,388.44 L165.11,388.44 L169.44,376.37 L173.77,386.75 L178.09,388.44 L182.42,388.44 L186.75,374.69 L191.07,385.35" fill="none" stroke="#6f8cc8" stroke-width="0.5"/>
<circle cx="134.83" cy="362.06" r="0.8" fill="#1f3264"/>
<circle cx="139.15" cy="388.44" r="0.8" fill="#1f3264"/>
<circle cx="143.48" cy="388.44" r="0.8" fill="#1f3264"/>
<circle cx="147.81" cy="387.88" r="0.8" fill="#1f3264"/>
<circle cx="160.79" cy="388.44" r="0.8" fill="#1f3264"/>
<circle cx="165.11" cy="388.44" r="0.8" fill="#1f3264"/>
<circle cx="169.44" cy="376.37" r="0.8" fill="#1f3264"/>
<circle cx="173.77" cy="386.75" r="0.8" fill="#1f3264"/>
<circle cx="178.09" cy="388.44" r="0.8" fill="#1f3264"/>
<circle cx="182.42" cy="388.44" r="0.8" fill="#1f3264"/>
<circle cx="186.75" cy="374.69" r="0.8" fill="#1f3264"/>
<circle cx="191.07" cy="385.35" r="0.8" fill="#1f3264"/>
<text x="241.0" y="342.6" font-size="6.2" text-anchor="middle" fill="#111" stroke="#111" stroke-width="0.1">MF8</text>
<path d="M210.0,346.9V389.0H274.9" fill="none" stroke="#444" stroke-width="0.85"/>
<path d="M209.0,389.0H210.0" stroke="#333" stroke-width="0.5"/>
<text x="208.5" y="389.9" font-size="2.5" font-weight="bold" text-anchor="end" fill="#333" stroke="#333" stroke-width="0.12">0</text>
<path d="M209.0,375.0H210.0" stroke="#333" stroke-width="0.5"/>
<text x="208.5" y="375.8" font-size="2.5" font-weight="bold" text-anchor="end" fill="#333" stroke="#333" stroke-width="0.12">5</text>
<path d="M209.0,360.9H210.0" stroke="#333" stroke-width="0.5"/>
<text x="208.5" y="361.8" font-size="2.5" font-weight="bold" text-anchor="end" fill="#333" stroke="#333" stroke-width="0.12">10</text>
<path d="M209.0,346.9H210.0" stroke="#333" stroke-width="0.5"/>
<text x="208.5" y="347.8" font-size="2.5" font-weight="bold" text-anchor="end" fill="#333" stroke="#333" stroke-width="0.12">15</text>
<path d="M210.0,389.0V390.0" stroke="#333" stroke-width="0.5"/>
<text x="210.0" y="392.9" font-size="2.5" font-weight="bold" text-anchor="middle" fill="#333" stroke="#333" stroke-width="0.12">0</text>
<path d="M231.6,389.0V390.0" stroke="#333" stroke-width="0.5"/>
<text x="231.6" y="392.9" font-size="2.5" font-weight="bold" text-anchor="middle" fill="#333" stroke="#333" stroke-width="0.12">5</text>
<path d="M253.3,389.0V390.0" stroke="#333" stroke-width="0.5"/>
<text x="253.3" y="392.9" font-size="2.5" font-weight="bold" text-anchor="middle" fill="#333" stroke="#333" stroke-width="0.12">10</text>
<path d="M274.9,389.0V390.0" stroke="#333" stroke-width="0.5"/>
<text x="274.9" y="392.9" font-size="2.5" font-weight="bold" text-anchor="middle" fill="#333" stroke="#333" stroke-width="0.12">15</text>
<text x="242.0" y="399.4" font-size="2.8" font-weight="bold" text-anchor="middle" fill="#222" stroke="#222" stroke-width="0.12">Weeks</text>
<text transform="translate(203.5,367.2) rotate(-90)" font-size="2.9" font-weight="bold" text-anchor="middle" fill="#333" stroke="#333" stroke-width="0.12">Progesterone (ng/mL)</text>
<path d="M214.33,388.44 L218.65,388.16 L222.98,387.60 L227.31,369.63 L240.29,388.72 L244.61,388.72 L248.94,370.76 L253.27,377.77 L257.59,388.72 L261.92,388.44 L266.25,375.53 L270.57,376.09" fill="none" stroke="#44809e" stroke-width="0.5"/>
<circle cx="214.33" cy="388.44" r="0.8" fill="#1c4659"/>
<circle cx="218.65" cy="388.16" r="0.8" fill="#1c4659"/>
<circle cx="222.98" cy="387.60" r="0.8" fill="#1c4659"/>
<circle cx="227.31" cy="369.63" r="0.8" fill="#1c4659"/>
<circle cx="240.29" cy="388.72" r="0.8" fill="#1c4659"/>
<circle cx="244.61" cy="388.72" r="0.8" fill="#1c4659"/>
<circle cx="248.94" cy="370.76" r="0.8" fill="#1c4659"/>
<circle cx="253.27" cy="377.77" r="0.8" fill="#1c4659"/>
<circle cx="257.59" cy="388.72" r="0.8" fill="#1c4659"/>
<circle cx="261.92" cy="388.44" r="0.8" fill="#1c4659"/>
<circle cx="266.25" cy="375.53" r="0.8" fill="#1c4659"/>
<circle cx="270.57" cy="376.09" r="0.8" fill="#1c4659"/>
<text x="315.9" y="342.6" font-size="6.2" text-anchor="middle" fill="#111" stroke="#111" stroke-width="0.1">MF9</text>
<path d="M284.5,347.1V389.2H349.4" fill="none" stroke="#444" stroke-width="0.85"/>
<path d="M283.5,389.2H284.5" stroke="#333" stroke-width="0.5"/>
<text x="283.0" y="390.1" font-size="2.5" font-weight="bold" text-anchor="end" fill="#333" stroke="#333" stroke-width="0.12">0</text>
<path d="M283.5,375.2H284.5" stroke="#333" stroke-width="0.5"/>
<text x="283.0" y="376.0" font-size="2.5" font-weight="bold" text-anchor="end" fill="#333" stroke="#333" stroke-width="0.12">5</text>
<path d="M283.5,361.1H284.5" stroke="#333" stroke-width="0.5"/>
<text x="283.0" y="362.0" font-size="2.5" font-weight="bold" text-anchor="end" fill="#333" stroke="#333" stroke-width="0.12">10</text>
<path d="M283.5,347.1H284.5" stroke="#333" stroke-width="0.5"/>
<text x="283.0" y="347.9" font-size="2.5" font-weight="bold" text-anchor="end" fill="#333" stroke="#333" stroke-width="0.12">15</text>
<path d="M284.5,389.2V390.2" stroke="#333" stroke-width="0.5"/>
<text x="284.5" y="393.1" font-size="2.5" font-weight="bold" text-anchor="middle" fill="#333" stroke="#333" stroke-width="0.12">0</text>
<path d="M306.1,389.2V390.2" stroke="#333" stroke-width="0.5"/>
<text x="306.1" y="393.1" font-size="2.5" font-weight="bold" text-anchor="middle" fill="#333" stroke="#333" stroke-width="0.12">5</text>
<path d="M327.8,389.2V390.2" stroke="#333" stroke-width="0.5"/>
<text x="327.8" y="393.1" font-size="2.5" font-weight="bold" text-anchor="middle" fill="#333" stroke="#333" stroke-width="0.12">10</text>
<path d="M349.4,389.2V390.2" stroke="#333" stroke-width="0.5"/>
<text x="349.4" y="393.1" font-size="2.5" font-weight="bold" text-anchor="middle" fill="#333" stroke="#333" stroke-width="0.12">15</text>
<text x="316.5" y="399.6" font-size="2.8" font-weight="bold" text-anchor="middle" fill="#222" stroke="#222" stroke-width="0.12">Weeks</text>
<text transform="translate(278.0,367.4) rotate(-90)" font-size="2.9" font-weight="bold" text-anchor="middle" fill="#333" stroke="#333" stroke-width="0.12">Progesterone (ng/mL)</text>
<path d="M288.83,388.36 L293.15,388.08 L297.48,388.36 L301.81,377.13 L314.79,388.92 L319.11,382.18 L323.44,379.38 L327.77,387.24 L332.09,388.64 L336.42,381.06 L340.75,351.31 L345.07,388.92" fill="none" stroke="#f5946a" stroke-width="0.5"/>
<circle cx="288.83" cy="388.36" r="0.8" fill="#c0563e"/>
<circle cx="293.15" cy="388.08" r="0.8" fill="#c0563e"/>
<circle cx="297.48" cy="388.36" r="0.8" fill="#c0563e"/>
<circle cx="301.81" cy="377.13" r="0.8" fill="#c0563e"/>
<circle cx="314.79" cy="388.92" r="0.8" fill="#c0563e"/>
<circle cx="319.11" cy="382.18" r="0.8" fill="#c0563e"/>
<circle cx="323.44" cy="379.38" r="0.8" fill="#c0563e"/>
<circle cx="327.77" cy="387.24" r="0.8" fill="#c0563e"/>
<circle cx="332.09" cy="388.64" r="0.8" fill="#c0563e"/>
<circle cx="336.42" cy="381.06" r="0.8" fill="#c0563e"/>
<circle cx="340.75" cy="351.31" r="0.8" fill="#c0563e"/>
<circle cx="345.07" cy="388.92" r="0.8" fill="#c0563e"/>
<path d="M11.5,270.0V324.0H94.9" fill="none" stroke="#333" stroke-width="0.9"/>
<path d="M10.3,324.0H11.5" stroke="#333" stroke-width="0.5"/>
<text x="9.7" y="324.9" font-size="2.9" font-weight="bold" text-anchor="end" fill="#333" stroke="#333" stroke-width="0.15">0</text>
<path d="M11.5,324.0V325.2" stroke="#333" stroke-width="0.5"/>
<text x="11.5" y="329.3" font-size="2.9" font-weight="bold" text-anchor="middle" fill="#333" stroke="#333" stroke-width="0.15">0</text>
<path d="M10.3,306.0H11.5" stroke="#333" stroke-width="0.5"/>
<text x="9.7" y="306.9" font-size="2.9" font-weight="bold" text-anchor="end" fill="#333" stroke="#333" stroke-width="0.15">5</text>
<path d="M39.3,324.0V325.2" stroke="#333" stroke-width="0.5"/>
<text x="39.3" y="329.3" font-size="2.9" font-weight="bold" text-anchor="middle" fill="#333" stroke="#333" stroke-width="0.15">5</text>
<path d="M10.3,288.0H11.5" stroke="#333" stroke-width="0.5"/>
<text x="9.7" y="288.9" font-size="2.9" font-weight="bold" text-anchor="end" fill="#333" stroke="#333" stroke-width="0.15">10</text>
<path d="M67.1,324.0V325.2" stroke="#333" stroke-width="0.5"/>
<text x="67.1" y="329.3" font-size="2.9" font-weight="bold" text-anchor="middle" fill="#333" stroke="#333" stroke-width="0.15">10</text>
<path d="M10.3,270.0H11.5" stroke="#333" stroke-width="0.5"/>
<text x="9.7" y="270.9" font-size="2.9" font-weight="bold" text-anchor="end" fill="#333" stroke="#333" stroke-width="0.15">15</text>
<path d="M94.9,324.0V325.2" stroke="#333" stroke-width="0.5"/>
<text x="94.9" y="329.3" font-size="2.9" font-weight="bold" text-anchor="middle" fill="#333" stroke="#333" stroke-width="0.15">15</text>
<text x="52.5" y="337.7" font-size="3.2" font-weight="bold" text-anchor="middle" fill="#222" stroke="#222" stroke-width="0.12">Weeks</text>
<text transform="translate(4.1,298.5) rotate(-90)" font-size="3.2" font-weight="bold" text-anchor="middle" fill="#222" stroke="#222" stroke-width="0.15">Progesterone (ng/mL)</text>
<path d="M17.06,315.36 L22.62,309.96 L28.18,322.20 L33.74,322.92 L50.42,321.84 L55.98,322.20 L61.54,313.56 L67.10,302.76 L72.66,322.92 L78.22,322.92 L83.78,312.12 L89.34,314.28" fill="none" stroke="#9d9fd6" stroke-width="0.45" opacity="0.5"/>
<path d="M17.06,319.32 L22.62,323.64 L28.18,323.64 L33.74,312.84 L50.42,323.64 L55.98,323.64 L61.54,298.44 L67.10,323.64 L72.66,323.64 L78.22,319.68 L83.78,302.76 L89.34,323.64" fill="none" stroke="#8ed8ea" stroke-width="0.45" opacity="0.5"/>
<path d="M17.06,322.92 L22.62,322.92 L28.18,321.12 L33.74,312.12 L50.42,322.92 L55.98,322.92 L61.54,315.36 L67.10,295.92 L72.66,322.92 L78.22,322.92 L83.78,320.76 L89.34,320.76" fill="none" stroke="#78d0e2" stroke-width="0.45" opacity="0.5"/>
<path d="M17.06,305.28 L22.62,315.72 L28.18,301.68 L50.42,323.28 L55.98,315.36 L61.54,302.04 L67.10,315.72 L72.66,322.92 L78.22,322.92 L83.78,322.92 L89.34,322.92" fill="none" stroke="#f6b29a" stroke-width="0.45" opacity="0.5"/>
<path d="M17.06,323.28 L22.62,323.28 L28.18,323.28 L33.74,297.00 L50.42,324.00 L55.98,303.84 L61.54,311.40 L67.10,324.00 L72.66,324.00 L78.22,313.20 L83.78,311.76 L89.34,324.00" fill="none" stroke="#f2aaa8" stroke-width="0.45" opacity="0.5"/>
<path d="M17.06,322.92 L22.62,322.92 L28.18,322.92 L33.74,322.92 L50.42,322.92 L55.98,322.92 L61.54,312.48 L67.10,321.48 L72.66,322.92 L78.22,322.92 L83.78,322.92 L89.34,322.56" fill="none" stroke="#3a3a3a" stroke-width="0.45" opacity="0.5"/>
<path d="M17.06,289.44 L22.62,323.28 L28.18,323.28 L33.74,322.56 L50.42,323.28 L55.98,323.28 L61.54,307.80 L67.10,321.12 L72.66,323.28 L78.22,323.28 L83.78,305.64 L89.34,319.32" fill="none" stroke="#6f8cc8" stroke-width="0.45" opacity="0.5"/>
<path d="M17.06,323.28 L22.62,322.92 L28.18,322.20 L33.74,299.16 L50.42,323.64 L55.98,323.64 L61.54,300.60 L67.10,309.60 L72.66,323.64 L78.22,323.28 L83.78,306.72 L89.34,307.44" fill="none" stroke="#44809e" stroke-width="0.45" opacity="0.5"/>
<path d="M17.06,322.92 L22.62,322.56 L28.18,322.92 L33.74,308.52 L50.42,323.64 L55.98,315.00 L61.54,311.40 L67.10,321.48 L72.66,323.28 L78.22,313.56 L83.78,275.40 L89.34,323.64" fill="none" stroke="#f5946a" stroke-width="0.45" opacity="0.5"/>
<circle cx="17.06" cy="315.36" r="0.7" fill="#5d5f98"/>
<circle cx="22.62" cy="309.96" r="0.7" fill="#5d5f98"/>
<circle cx="28.18" cy="322.20" r="0.7" fill="#5d5f98"/>
<circle cx="33.74" cy="322.92" r="0.7" fill="#5d5f98"/>
<circle cx="50.42" cy="321.84" r="0.7" fill="#5d5f98"/>
<circle cx="55.98" cy="322.20" r="0.7" fill="#5d5f98"/>
<circle cx="61.54" cy="313.56" r="0.7" fill="#5d5f98"/>
<circle cx="67.10" cy="302.76" r="0.7" fill="#5d5f98"/>
<circle cx="72.66" cy="322.92" r="0.7" fill="#5d5f98"/>
<circle cx="78.22" cy="322.92" r="0.7" fill="#5d5f98"/>
<circle cx="83.78" cy="312.12" r="0.7" fill="#5d5f98"/>
<circle cx="89.34" cy="314.28" r="0.7" fill="#5d5f98"/>
<circle cx="17.06" cy="319.32" r="0.7" fill="#3f8499"/>
<circle cx="22.62" cy="323.64" r="0.7" fill="#3f8499"/>
<circle cx="28.18" cy="323.64" r="0.7" fill="#3f8499"/>
<circle cx="33.74" cy="312.84" r="0.7" fill="#3f8499"/>
<circle cx="50.42" cy="323.64" r="0.7" fill="#3f8499"/>
<circle cx="55.98" cy="323.64" r="0.7" fill="#3f8499"/>
<circle cx="61.54" cy="298.44" r="0.7" fill="#3f8499"/>
<circle cx="67.10" cy="323.64" r="0.7" fill="#3f8499"/>
<circle cx="72.66" cy="323.64" r="0.7" fill="#3f8499"/>
<circle cx="78.22" cy="319.68" r="0.7" fill="#3f8499"/>
<circle cx="83.78" cy="302.76" r="0.7" fill="#3f8499"/>
<circle cx="89.34" cy="323.64" r="0.7" fill="#3f8499"/>
<circle cx="17.06" cy="322.92" r="0.7" fill="#3b8c9b"/>
<circle cx="22.62" cy="322.92" r="0.7" fill="#3b8c9b"/>
<circle cx="28.18" cy="321.12" r="0.7" fill="#3b8c9b"/>
<circle cx="33.74" cy="312.12" r="0.7" fill="#3b8c9b"/>
<circle cx="50.42" cy="322.92" r="0.7" fill="#3b8c9b"/>
<circle cx="55.98" cy="322.92" r="0.7" fill="#3b8c9b"/>
<circle cx="61.54" cy="315.36" r="0.7" fill="#3b8c9b"/>
<circle cx="67.10" cy="295.92" r="0.7" fill="#3b8c9b"/>
<circle cx="72.66" cy="322.92" r="0.7" fill="#3b8c9b"/>
<circle cx="78.22" cy="322.92" r="0.7" fill="#3b8c9b"/>
<circle cx="83.78" cy="320.76" r="0.7" fill="#3b8c9b"/>
<circle cx="89.34" cy="320.76" r="0.7" fill="#3b8c9b"/>
<circle cx="17.06" cy="305.28" r="0.7" fill="#b97a66"/>
<circle cx="22.62" cy="315.72" r="0.7" fill="#b97a66"/>
<circle cx="28.18" cy="301.68" r="0.7" fill="#b97a66"/>
<circle cx="50.42" cy="323.28" r="0.7" fill="#b97a66"/>
<circle cx="55.98" cy="315.36" r="0.7" fill="#b97a66"/>
<circle cx="61.54" cy="302.04" r="0.7" fill="#b97a66"/>
<circle cx="67.10" cy="315.72" r="0.7" fill="#b97a66"/>
<circle cx="72.66" cy="322.92" r="0.7" fill="#b97a66"/>
<circle cx="78.22" cy="322.92" r="0.7" fill="#b97a66"/>
<circle cx="83.78" cy="322.92" r="0.7" fill="#b97a66"/>
<circle cx="89.34" cy="322.92" r="0.7" fill="#b97a66"/>
<circle cx="17.06" cy="323.28" r="0.7" fill="#a8646e"/>
<circle cx="22.62" cy="323.28" r="0.7" fill="#a8646e"/>
<circle cx="28.18" cy="323.28" r="0.7" fill="#a8646e"/>
<circle cx="33.74" cy="297.00" r="0.7" fill="#a8646e"/>
<circle cx="50.42" cy="324.00" r="0.7" fill="#a8646e"/>
<circle cx="55.98" cy="303.84" r="0.7" fill="#a8646e"/>
<circle cx="61.54" cy="311.40" r="0.7" fill="#a8646e"/>
<circle cx="67.10" cy="324.00" r="0.7" fill="#a8646e"/>
<circle cx="72.66" cy="324.00" r="0.7" fill="#a8646e"/>
<circle cx="78.22" cy="313.20" r="0.7" fill="#a8646e"/>
<circle cx="83.78" cy="311.76" r="0.7" fill="#a8646e"/>
<circle cx="89.34" cy="324.00" r="0.7" fill="#a8646e"/>
<circle cx="17.06" cy="322.92" r="0.7" fill="#101010"/>
<circle cx="22.62" cy="322.92" r="0.7" fill="#101010"/>
<circle cx="28.18" cy="322.92" r="0.7" fill="#101010"/>
<circle cx="33.74" cy="322.92" r="0.7" fill="#101010"/>
<circle cx="50.42" cy="322.92" r="0.7" fill="#101010"/>
<circle cx="55.98" cy="322.92" r="0.7" fill="#101010"/>
<circle cx="61.54" cy="312.48" r="0.7" fill="#101010"/>
<circle cx="67.10" cy="321.48" r="0.7" fill="#101010"/>
<circle cx="72.66" cy="322.92" r="0.7" fill="#101010"/>
<circle cx="78.22" cy="322.92" r="0.7" fill="#101010"/>
<circle cx="83.78" cy="322.92" r="0.7" fill="#101010"/>
<circle cx="89.34" cy="322.56" r="0.7" fill="#101010"/>
<circle cx="17.06" cy="289.44" r="0.7" fill="#1f3264"/>
<circle cx="22.62" cy="323.28" r="0.7" fill="#1f3264"/>
<circle cx="28.18" cy="323.28" r="0.7" fill="#1f3264"/>
<circle cx="33.74" cy="322.56" r="0.7" fill="#1f3264"/>
<circle cx="50.42" cy="323.28" r="0.7" fill="#1f3264"/>
<circle cx="55.98" cy="323.28" r="0.7" fill="#1f3264"/>
<circle cx="61.54" cy="307.80" r="0.7" fill="#1f3264"/>
<circle cx="67.10" cy="321.12" r="0.7" fill="#1f3264"/>
<circle cx="72.66" cy="323.28" r="0.7" fill="#1f3264"/>
<circle cx="78.22" cy="323.28" r="0.7" fill="#1f3264"/>
<circle cx="83.78" cy="305.64" r="0.7" fill="#1f3264"/>
<circle cx="89.34" cy="319.32" r="0.7" fill="#1f3264"/>
<circle cx="17.06" cy="323.28" r="0.7" fill="#1c4659"/>
<circle cx="22.62" cy="322.92" r="0.7" fill="#1c4659"/>
<circle cx="28.18" cy="322.20" r="0.7" fill="#1c4659"/>
<circle cx="33.74" cy="299.16" r="0.7" fill="#1c4659"/>
<circle cx="50.42" cy="323.64" r="0.7" fill="#1c4659"/>
<circle cx="55.98" cy="323.64" r="0.7" fill="#1c4659"/>
<circle cx="61.54" cy="300.60" r="0.7" fill="#1c4659"/>
<circle cx="67.10" cy="309.60" r="0.7" fill="#1c4659"/>
<circle cx="72.66" cy="323.64" r="0.7" fill="#1c4659"/>
<circle cx="78.22" cy="323.28" r="0.7" fill="#1c4659"/>
<circle cx="83.78" cy="306.72" r="0.7" fill="#1c4659"/>
<circle cx="89.34" cy="307.44" r="0.7" fill="#1c4659"/>
<circle cx="17.06" cy="322.92" r="0.7" fill="#c0563e"/>
<circle cx="22.62" cy="322.56" r="0.7" fill="#c0563e"/>
<circle cx="28.18" cy="322.92" r="0.7" fill="#c0563e"/>
<circle cx="33.74" cy="308.52" r="0.7" fill="#c0563e"/>
<circle cx="50.42" cy="323.64" r="0.7" fill="#c0563e"/>
<circle cx="55.98" cy="315.00" r="0.7" fill="#c0563e"/>
<circle cx="61.54" cy="311.40" r="0.7" fill="#c0563e"/>
<circle cx="67.10" cy="321.48" r="0.7" fill="#c0563e"/>
<circle cx="72.66" cy="323.28" r="0.7" fill="#c0563e"/>
<circle cx="78.22" cy="313.56" r="0.7" fill="#c0563e"/>
<circle cx="83.78" cy="275.40" r="0.7" fill="#c0563e"/>
<circle cx="89.34" cy="323.64" r="0.7" fill="#c0563e"/>
<path d="M19.3,332.8V328.6" stroke="#e05a60" stroke-width="0.5"/><path d="M19.3,327.2 L18.400000000000002,329.1 L20.2,329.1 Z" fill="#e05a60"/>
<path d="M49.6,332.8V328.6" stroke="#e05a60" stroke-width="0.5"/><path d="M49.6,327.2 L48.7,329.1 L50.5,329.1 Z" fill="#e05a60"/>
<path d="M70.4,332.8V328.6" stroke="#e05a60" stroke-width="0.5"/><path d="M70.4,327.2 L69.5,329.1 L71.30000000000001,329.1 Z" fill="#e05a60"/>
<path d="M103.4,280.60H106.2" stroke="#9d9fd6" stroke-width="0.4" opacity="0.6"/><circle cx="104.8" cy="280.60" r="0.85" fill="#5d5f98"/>
<text x="108.8" y="281.80" font-size="3.5" fill="#1a1a1a" stroke="#1a1a1a" stroke-width="0.2">MF1</text>
<path d="M103.4,285.55H106.2" stroke="#8ed8ea" stroke-width="0.4" opacity="0.6"/><circle cx="104.8" cy="285.55" r="0.85" fill="#3f8499"/>
<text x="108.8" y="286.75" font-size="3.5" fill="#1a1a1a" stroke="#1a1a1a" stroke-width="0.2">MF2</text>
<path d="M103.4,290.50H106.2" stroke="#78d0e2" stroke-width="0.4" opacity="0.6"/><circle cx="104.8" cy="290.50" r="0.85" fill="#3b8c9b"/>
<text x="108.8" y="291.70" font-size="3.5" fill="#1a1a1a" stroke="#1a1a1a" stroke-width="0.2">MF3</text>
<path d="M103.4,295.45H106.2" stroke="#f6b29a" stroke-width="0.4" opacity="0.6"/><circle cx="104.8" cy="295.45" r="0.85" fill="#b97a66"/>
<text x="108.8" y="296.65" font-size="3.5" fill="#1a1a1a" stroke="#1a1a1a" stroke-width="0.2">MF4</text>
<path d="M103.4,300.40H106.2" stroke="#f2aaa8" stroke-width="0.4" opacity="0.6"/><circle cx="104.8" cy="300.40" r="0.85" fill="#a8646e"/>
<text x="108.8" y="301.60" font-size="3.5" fill="#1a1a1a" stroke="#1a1a1a" stroke-width="0.2">MF5</text>
<path d="M103.4,305.35H106.2" stroke="#3a3a3a" stroke-width="0.4" opacity="0.6"/><circle cx="104.8" cy="305.35" r="0.85" fill="#101010"/>
<text x="108.8" y="306.55" font-size="3.5" fill="#1a1a1a" stroke="#1a1a1a" stroke-width="0.2">MF6</text>
<path d="M103.4,310.30H106.2" stroke="#6f8cc8" stroke-width="0.4" opacity="0.6"/><circle cx="104.8" cy="310.30" r="0.85" fill="#1f3264"/>
<text x="108.8" y="311.50" font-size="3.5" fill="#1a1a1a" stroke="#1a1a1a" stroke-width="0.2">MF7</text>
<path d="M103.4,315.25H106.2" stroke="#44809e" stroke-width="0.4" opacity="0.6"/><circle cx="104.8" cy="315.25" r="0.85" fill="#1c4659"/>
<text x="108.8" y="316.45" font-size="3.5" fill="#1a1a1a" stroke="#1a1a1a" stroke-width="0.2">MF8</text>
<path d="M103.4,320.20H106.2" stroke="#f5946a" stroke-width="0.4" opacity="0.6"/><circle cx="104.8" cy="320.20" r="0.85" fill="#c0563e"/>
<text x="108.8" y="321.40" font-size="3.5" fill="#1a1a1a" stroke="#1a1a1a" stroke-width="0.2">MF9</text>
</svg></body></html>
